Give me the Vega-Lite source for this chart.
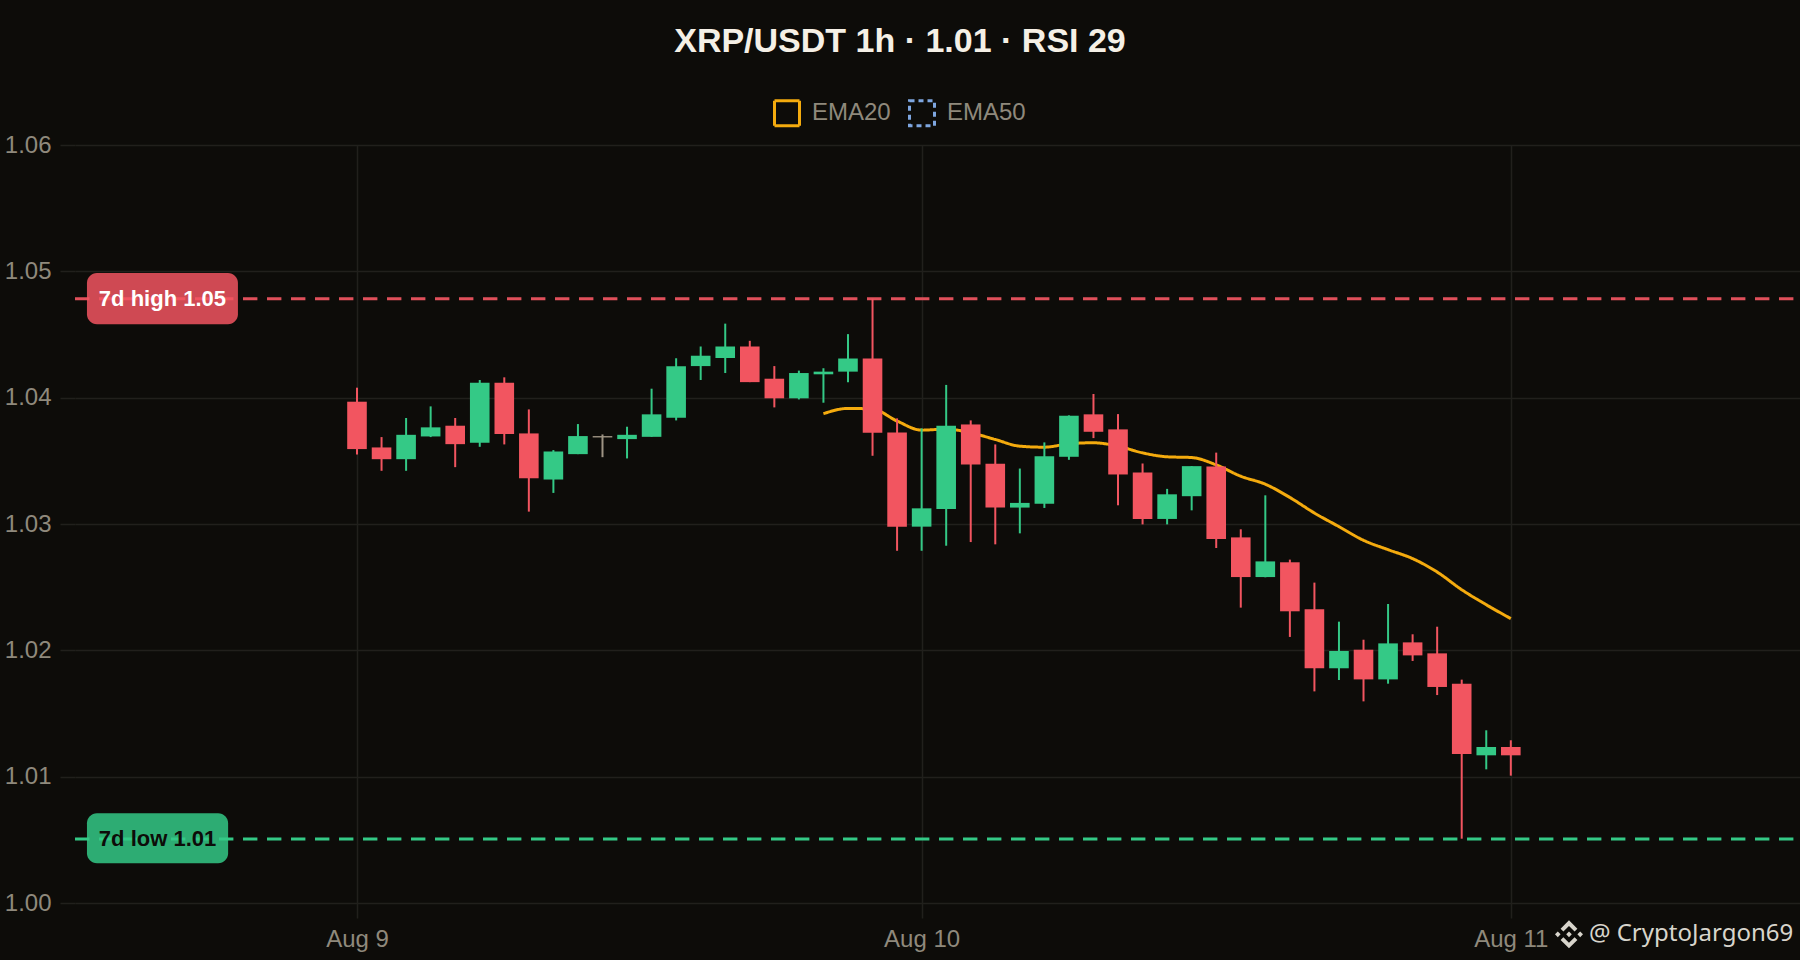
{
"$schema":"https://vega.github.io/schema/vega-lite/v6.json",
"autosize":{"type":"none"},
"width":1725,"height":758,
"padding":{"left":75,"top":145,"right":0,"bottom":57},
"background":"#0d0c09",
"config":{"view":{"stroke":null},"font":"Liberation Sans"},
"title":{"text":"XRP/USDT 1h · 1.01 · RSI 29","font":"Liberation Sans","fontSize":34,"fontWeight":"bold","color":"#f5f0e6","anchor":"middle","dx":-37.5,"offset":40},
"datasets":{
"candles":[
{"i":0,"open":1.03968,"close":1.03593,"high":1.04079,"low":1.0355,"dir":"down"},
{"i":1,"open":1.03606,"close":1.03513,"high":1.03688,"low":1.03421,"dir":"down"},
{"i":2,"open":1.03513,"close":1.03706,"high":1.03839,"low":1.03421,"dir":"up"},
{"i":3,"open":1.03693,"close":1.03765,"high":1.03931,"low":1.03688,"dir":"up"},
{"i":4,"open":1.03778,"close":1.03632,"high":1.03839,"low":1.0345,"dir":"down"},
{"i":5,"open":1.03643,"close":1.04119,"high":1.0414,"low":1.03611,"dir":"up"},
{"i":6,"open":1.04119,"close":1.03712,"high":1.04161,"low":1.0363,"dir":"down"},
{"i":7,"open":1.03717,"close":1.03362,"high":1.03907,"low":1.03098,"dir":"down"},
{"i":8,"open":1.03352,"close":1.03574,"high":1.03585,"low":1.03246,"dir":"up"},
{"i":9,"open":1.03553,"close":1.03696,"high":1.03791,"low":1.03553,"dir":"up"},
{"i":10,"open":1.03696,"close":1.03685,"high":1.03709,"low":1.03529,"dir":"flat"},
{"i":11,"open":1.03672,"close":1.03706,"high":1.0377,"low":1.03519,"dir":"up"},
{"i":12,"open":1.0369,"close":1.03868,"high":1.04071,"low":1.0369,"dir":"up"},
{"i":13,"open":1.03841,"close":1.04249,"high":1.04312,"low":1.0382,"dir":"up"},
{"i":14,"open":1.0425,"close":1.04332,"high":1.04405,"low":1.0414,"dir":"up"},
{"i":15,"open":1.04314,"close":1.04405,"high":1.04586,"low":1.04195,"dir":"up"},
{"i":16,"open":1.04405,"close":1.04123,"high":1.0445,"low":1.04123,"dir":"down"},
{"i":17,"open":1.0415,"close":1.03995,"high":1.0425,"low":1.03923,"dir":"down"},
{"i":18,"open":1.03995,"close":1.04195,"high":1.04214,"low":1.03986,"dir":"up"},
{"i":19,"open":1.04185,"close":1.04206,"high":1.04233,"low":1.0396,"dir":"up"},
{"i":20,"open":1.04206,"close":1.0431,"high":1.04503,"low":1.04122,"dir":"up"},
{"i":21,"open":1.0431,"close":1.03722,"high":1.04783,"low":1.0354,"dir":"down"},
{"i":22,"open":1.03725,"close":1.02979,"high":1.03836,"low":1.02788,"dir":"down"},
{"i":23,"open":1.02979,"close":1.03124,"high":1.03757,"low":1.02788,"dir":"up"},
{"i":24,"open":1.03119,"close":1.03778,"high":1.04101,"low":1.02828,"dir":"up"},
{"i":25,"open":1.03788,"close":1.03471,"high":1.0382,"low":1.02857,"dir":"down"},
{"i":26,"open":1.03476,"close":1.0313,"high":1.0363,"low":1.02839,"dir":"down"},
{"i":27,"open":1.0313,"close":1.03167,"high":1.03439,"low":1.02926,"dir":"up"},
{"i":28,"open":1.03161,"close":1.03537,"high":1.03646,"low":1.03127,"dir":"up"},
{"i":29,"open":1.03532,"close":1.03857,"high":1.0386,"low":1.03508,"dir":"up"},
{"i":30,"open":1.03868,"close":1.0373,"high":1.04029,"low":1.0368,"dir":"down"},
{"i":31,"open":1.03749,"close":1.03392,"high":1.0387,"low":1.03148,"dir":"down"},
{"i":32,"open":1.03407,"close":1.0304,"high":1.03479,"low":1.02997,"dir":"down"},
{"i":33,"open":1.0304,"close":1.03235,"high":1.03278,"low":1.02997,"dir":"up"},
{"i":34,"open":1.0322,"close":1.03458,"high":1.03458,"low":1.03108,"dir":"up"},
{"i":35,"open":1.03456,"close":1.02881,"high":1.03565,"low":1.0281,"dir":"down"},
{"i":36,"open":1.02894,"close":1.0258,"high":1.02958,"low":1.02338,"dir":"down"},
{"i":37,"open":1.0258,"close":1.02704,"high":1.03227,"low":1.02578,"dir":"up"},
{"i":38,"open":1.02697,"close":1.02309,"high":1.02718,"low":1.02106,"dir":"down"},
{"i":39,"open":1.02325,"close":1.01858,"high":1.02536,"low":1.01675,"dir":"down"},
{"i":40,"open":1.01858,"close":1.01995,"high":1.02227,"low":1.01765,"dir":"up"},
{"i":41,"open":1.02005,"close":1.0177,"high":1.02084,"low":1.01596,"dir":"down"},
{"i":42,"open":1.0177,"close":1.02055,"high":1.02367,"low":1.01736,"dir":"up"},
{"i":43,"open":1.02063,"close":1.0196,"high":1.02127,"low":1.01916,"dir":"down"},
{"i":44,"open":1.01976,"close":1.0171,"high":1.02187,"low":1.01646,"dir":"down"},
{"i":45,"open":1.01736,"close":1.01179,"high":1.01768,"low":1.00509,"dir":"down"},
{"i":46,"open":1.01169,"close":1.01235,"high":1.01367,"low":1.01058,"dir":"up"},
{"i":47,"open":1.01235,"close":1.01169,"high":1.01288,"low":1.01008,"dir":"down"}
],
"ema":[
{"i":19,"ema":1.03873,"series":"EMA20"},{"i":20,"ema":1.03915,"series":"EMA20"},{"i":21,"ema":1.0391,"series":"EMA20"},{"i":22,"ema":1.03815,"series":"EMA20"},{"i":23,"ema":1.03743,"series":"EMA20"},{"i":24,"ema":1.03751,"series":"EMA20"},{"i":25,"ema":1.03722,"series":"EMA20"},{"i":26,"ema":1.03669,"series":"EMA20"},{"i":27,"ema":1.03616,"series":"EMA20"},{"i":28,"ema":1.03608,"series":"EMA20"},{"i":29,"ema":1.03635,"series":"EMA20"},{"i":30,"ema":1.03643,"series":"EMA20"},{"i":31,"ema":1.03616,"series":"EMA20"},{"i":32,"ema":1.03563,"series":"EMA20"},{"i":33,"ema":1.03532,"series":"EMA20"},{"i":34,"ema":1.03526,"series":"EMA20"},{"i":35,"ema":1.03468,"series":"EMA20"},{"i":36,"ema":1.03378,"series":"EMA20"},{"i":37,"ema":1.03315,"series":"EMA20"},{"i":38,"ema":1.0321,"series":"EMA20"},{"i":39,"ema":1.03087,"series":"EMA20"},{"i":40,"ema":1.02979,"series":"EMA20"},{"i":41,"ema":1.02871,"series":"EMA20"},{"i":42,"ema":1.02797,"series":"EMA20"},{"i":43,"ema":1.02726,"series":"EMA20"},{"i":44,"ema":1.0262,"series":"EMA20"},{"i":45,"ema":1.0248,"series":"EMA20"},{"i":46,"ema":1.02361,"series":"EMA20"},{"i":47,"ema":1.02251,"series":"EMA20"}
],
"levels":[
{"level":"high","price":1.04783,"label":"7d high 1.05","x0":-11.0,"x1":-4.85,"y0":1.04582,"y1":1.04986,"mid":-7.925},
{"level":"low","price":1.00507,"label":"7d low 1.01","x0":-11.0,"x1":-5.25,"y0":1.00314,"y1":1.0071,"mid":-8.125}
],
"brand":[{"ix":49.37,"iy":0.99752,"tx":50.18,"name":"@ CryptoJargon69"}]
},
"layer":[
{"data":{"name":"levels"},"mark":{"type":"rule","strokeWidth":3,"strokeDash":[14.4,9.6],"strokeDashOffset":17.4},
 "encoding":{"y":{"field":"price","type":"quantitative","scale":{"domain":[1.0,1.06],"nice":false,"zero":false},
   "axis":{"values":[1.0,1.01,1.02,1.03,1.04,1.05,1.06],"format":".2f","title":null,"domain":false,"grid":true,"gridColor":"#21201c","gridWidth":1.5,"tickColor":"#21201c","tickWidth":1.5,"tickSize":15,"labelColor":"#8f897c","labelFontSize":24,"labelFont":"Liberation Sans","labelPadding":9}},
  "color":{"field":"level","type":"nominal","scale":{"domain":["high","low"],"range":["#e0505b","#34c986"]},"legend":null}}},
{"data":{"name":"ema"},"mark":{"type":"line","strokeWidth":3,"interpolate":"monotone"},
 "encoding":{"x":{"field":"i","type":"quantitative","scale":{"domain":[-11.487,58.78],"nice":false,"zero":false,"padding":0},
   "axis":{"values":[0,23,47],"labelExpr":"datum.value==0?'Aug 9':datum.value==23?'Aug 10':'Aug 11'","title":null,"domain":false,"grid":true,"gridColor":"#21201c","gridWidth":1.5,"tickColor":"#21201c","tickWidth":1.5,"tickSize":15,"labelColor":"#8f897c","labelFontSize":24,"labelFont":"Liberation Sans","labelPadding":9}},
  "y":{"field":"ema","type":"quantitative"},
  "color":{"field":"series","type":"nominal","scale":{"domain":["EMA20","EMA50"],"range":["#f4ab0e","#7ea6e0"]},
    "legend":{"title":null,"orient":"none","legendX":698,"legendY":-46,"direction":"horizontal","symbolType":"square","symbolSize":625,"symbolStrokeWidth":3,"symbolFillColor":"transparent","labelColor":"#8f897c","labelFontSize":24,"labelFont":"Liberation Sans","labelOffset":11,"columnPadding":12,"symbolOpacity":1}},
  "strokeDash":{"field":"series","type":"nominal","scale":{"domain":["EMA20","EMA50"],"range":[[1,0],[5,4]]},
    "legend":{"title":null,"orient":"none","legendX":698,"legendY":-46,"direction":"horizontal","symbolType":"square","symbolSize":625,"symbolStrokeWidth":3,"symbolFillColor":"transparent","labelColor":"#8f897c","labelFontSize":24,"labelFont":"Liberation Sans","labelOffset":11,"columnPadding":12,"symbolOpacity":1}}}},
{"data":{"name":"candles"},"mark":{"type":"rule","strokeWidth":2},
 "encoding":{"x":{"field":"i","type":"quantitative"},"y":{"field":"low","type":"quantitative"},"y2":{"field":"high"},
  "color":{"field":"dir","type":"nominal","scale":{"domain":["up","down","flat"],"range":["#34c986","#f25560","#9e9484"]},"legend":null}}},
{"data":{"name":"candles"},"mark":{"type":"bar","size":19.6},
 "encoding":{"x":{"field":"i","type":"quantitative"},"y":{"field":"open","type":"quantitative"},"y2":{"field":"close"},
  "color":{"field":"dir","type":"nominal","scale":{"domain":["up","down","flat"],"range":["#34c986","#f25560","#9e9484"]},"legend":null}}},
{"data":{"name":"levels"},"mark":{"type":"rect","cornerRadius":10,"opacity":0.85},
 "encoding":{"x":{"field":"x0","type":"quantitative"},"x2":{"field":"x1"},"y":{"field":"y0","type":"quantitative"},"y2":{"field":"y1"},
  "color":{"field":"level","type":"nominal","scale":{"domain":["high","low"],"range":["#f25560","#34c986"]},"legend":null}}},
{"data":{"name":"levels"},"mark":{"type":"text","font":"Liberation Sans","fontSize":22,"fontWeight":"bold","align":"center","baseline":"middle"},
 "encoding":{"x":{"field":"mid","type":"quantitative"},"y":{"field":"price","type":"quantitative"},"text":{"field":"label"},
  "color":{"field":"level","type":"nominal","scale":{"domain":["high","low"],"range":["#ffffff","#0d0c09"]},"legend":null}}},
{"data":{"name":"brand"},"mark":{"type":"point","filled":true,"clip":false,"size":784,"opacity":1,"color":"#d8d5cc","strokeWidth":0,"shape":"M0,-1L.6,-.4L.4,-.2L0,-.6L-.4,-.2L-.6,-.4Z M0,1L.6,.4L.4,.2L0,.6L-.4,.2L-.6,.4Z M0,-.2L.2,0L0,.2L-.2,0Z M-.8,-.2L-.6,0L-.8,.2L-1,0Z M.8,-.2L1,0L.8,.2L.6,0Z"},
 "encoding":{"x":{"field":"ix","type":"quantitative"},"y":{"field":"iy","type":"quantitative"}}},
{"data":{"name":"brand"},"mark":{"type":"text","font":"Noto Sans","fontSize":24,"color":"#d8d5cc","align":"left","baseline":"middle","clip":false},
 "encoding":{"x":{"field":"tx","type":"quantitative"},"y":{"field":"iy","type":"quantitative"},"text":{"field":"name"}}}
],
"resolve":{"scale":{"color":"independent","strokeDash":"independent"}}
}
